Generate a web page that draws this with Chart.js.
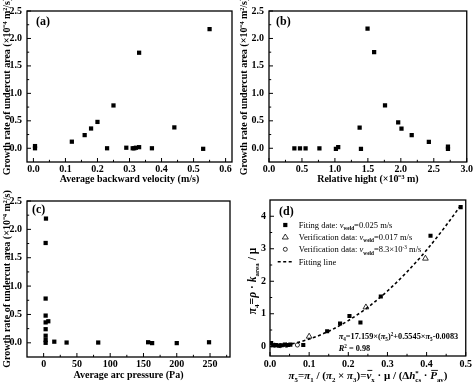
<!DOCTYPE html>
<html><head><meta charset="utf-8">
<script src="https://cdn.jsdelivr.net/npm/chart.js@4/dist/chart.umd.min.js"></script>
<style>
html,body{margin:0;padding:0;background:#fff;}
#wrap{position:relative;width:474px;height:383px;overflow:hidden;background:#fff}
canvas{position:absolute}
</style></head><body>
<div id="wrap">
<canvas id="ca" style="left:0;top:0" width="237" height="190"></canvas>
<canvas id="cb" style="left:237px;top:0" width="237" height="190"></canvas>
<canvas id="cc" style="left:0;top:190px" width="237" height="193"></canvas>
<canvas id="cd" style="left:237px;top:190px" width="237" height="193"></canvas>
</div>
<script>
// ---------- DATA ----------
// (a) growth rate vs average backward velocity
const velocityA = [0.005,0.005,0.12,0.16,0.18,0.20,0.23,0.25,0.29,0.31,0.315,0.32,0.33,0.33,0.37,0.44,0.53,0.55];
const rateA     = [0.04,0.0,0.12,0.24,0.36,0.48,0.0,0.78,0.01,0.0,0.0,0.01,0.02,1.74,0.0,0.38,-0.01,2.17];
// (b) growth rate vs relative hight
const hightB = [0.385,0.47,0.555,0.765,1.015,1.05,1.375,1.395,1.495,1.595,1.76,1.96,2.01,2.165,2.425,2.715,2.715];
const rateB  = [0.0,0.0,0.0,0.0,-0.01,0.02,0.375,-0.01,2.18,1.75,0.78,0.47,0.36,0.24,0.115,0.03,-0.01];
// (c) growth rate vs average arc pressure
const pressureC = [3.5,3,3,3,3,7,3,3,3,3,16,34.5,82,157,163,200,248.5];
const rateC     = [2.19,1.76,0.78,0.48,0.36,0.38,0.24,0.125,0.05,0.0,0.02,0.005,0.005,0.01,-0.005,-0.005,0.01];
// (d) dimensionless fit
const fitPi5 = [0.003,0.008,0.015,0.022,0.03,0.038,0.046,0.052,0.085,0.146,0.179,0.203,0.231,0.283,0.41,0.487];
const fitPi4 = [0.1,0.03,0.04,0.02,0.03,0.05,0.04,0.05,0.04,0.46,0.70,0.93,0.73,1.53,3.40,4.28];
const ver017Pi5 = [0.1,0.245,0.397];
const ver017Pi4 = [0.30,1.2,2.70];
const ver83Pi5 = [0.012,0.026,0.042,0.07];
const ver83Pi4 = [0.03,0.02,0.03,0.04];
const lineX = [0,0.05,0.1,0.15,0.2,0.25,0.3,0.35,0.4,0.45,0.49];
const lineY = [-0.01,0.06,0.22,0.46,0.79,1.2,1.7,2.29,2.96,3.72,4.38];

// ticks
const rateTicks = [0,0.5,1.0,1.5,2.0,2.5];
const rateTickLabels = ['0.0','0.5','1.0','1.5','2.0','2.5'];
const rateMinor = [-0.25,0.25,0.75,1.25,1.75,2.25];
const velTicks = [0,0.1,0.2,0.3,0.4,0.5,0.6];
const velTickLabels = ['0.0','0.1','0.2','0.3','0.4','0.5','0.6'];
const velMinor = [0.05,0.15,0.25,0.35,0.45,0.55];
const hightTicks = [0,0.5,1.0,1.5,2.0,2.5,3.0];
const hightTickLabels = ['0.0','0.5','1.0','1.5','2.0','2.5','3.0'];
const hightMinor = [0.25,0.75,1.25,1.75,2.25,2.75];
const presTicks = [0,50,100,150,200,250];
const presTickLabels = ['0','50','100','150','200','250'];
const presMinor = [-25,25,75,125,175,225,275];
const pi5Ticks = [0,0.1,0.2,0.3,0.4,0.5];
const pi5TickLabels = ['0.0','0.1','0.2','0.3','0.4','0.5'];
const pi5Minor = [0.05,0.15,0.25,0.35,0.45];
const pi4Ticks = [0,1,2,3,4];
const pi4TickLabels = ['0','1','2','3','4'];
const pi4Minor = [0.5,1.5,2.5,3.5];

const yTitleABC = 'Growth rate of undercut area (×10⁻⁴ m²/s)';

// ---------- helpers ----------
const SERIF = '"Liberation Serif","Times New Roman",serif';
function fontFor(f, size){
  const small = f.includes('sub') || f.includes('sup');
  const s = small ? size*0.62 : size;
  return (f.includes('i')?'italic ':'') + (f.includes('b')?'bold ':'') + s.toFixed(2) + 'px ' + SERIF;
}
function drawRich(ctx, segs, x, y, size, align, rot){
  ctx.save();
  ctx.translate(x,y); if(rot) ctx.rotate(rot);
  let w=0; const ws=[];
  for(const [t,f] of segs){ ctx.font=fontFor(f,size); const m=ctx.measureText(t).width; ws.push(m); if(!f.includes('nx')) w+=m; }
  let cx = align==='center' ? -w/2 : 0;
  ctx.fillStyle='#000'; ctx.strokeStyle='#000'; ctx.textBaseline='alphabetic'; ctx.textAlign='left';
  segs.forEach(([t,f],i)=>{
    ctx.font=fontFor(f,size);
    const dy = f.includes('sub') ? size*0.28 : (f.includes('sup') ? -size*0.40 : 0);
    ctx.fillText(t,cx,dy);
    if(f.includes('bar')){ ctx.lineWidth=0.9; ctx.beginPath(); ctx.moveTo(cx+1,dy-size*0.78); ctx.lineTo(cx+ws[i]+1,dy-size*0.78); ctx.stroke(); }
    if(!f.includes('nx')) cx+=ws[i];
  });
  ctx.restore();
}

function framePlugin(xMinor, yMinor, label, lx, ly){
  return {
    id:'frameTicks',
    afterDraw(chart){
      const ctx=chart.ctx, a=chart.chartArea, xs=chart.scales.x, ys=chart.scales.y;
      ctx.save();
      ctx.strokeStyle='#000'; ctx.lineWidth=1.3;
      ctx.strokeRect(a.left,a.top,a.right-a.left,a.bottom-a.top);
      ctx.lineWidth=1;
      ctx.beginPath();
      xs.ticks.forEach(t=>{const p=xs.getPixelForValue(t.value); ctx.moveTo(p,a.bottom); ctx.lineTo(p,a.bottom-4);});
      xMinor.forEach(v=>{const p=xs.getPixelForValue(v); if(p>a.left&&p<a.right){ctx.moveTo(p,a.bottom); ctx.lineTo(p,a.bottom-2.2);}});
      ys.ticks.forEach(t=>{const p=ys.getPixelForValue(t.value); ctx.moveTo(a.left,p); ctx.lineTo(a.left+4,p);});
      yMinor.forEach(v=>{const p=ys.getPixelForValue(v); if(p>a.top&&p<a.bottom){ctx.moveTo(a.left,p); ctx.lineTo(a.left+2.2,p);}});
      ctx.stroke();
      ctx.fillStyle='#000'; ctx.font='bold 12px '+SERIF; ctx.textBaseline='middle'; ctx.textAlign='left';
      ctx.fillText(label, a.left+lx, a.top+ly);
      ctx.restore();
    }
  };
}

function axisCfg(min,max,ticks,labels,fit,isX,title,titlePad,tickPad){
  return {
    type:'linear', min, max,
    grid:{display:false, drawTicks:false},
    border:{display:false},
    afterBuildTicks(s){ s.ticks = ticks.map(v=>({value:v})); },
    afterFit(s){ if(isX) s.height=fit; else s.width=fit; },
    ticks:{ color:'#000', font:{family:SERIF, size:10, weight:'bold'}, padding:tickPad, maxRotation:0, autoSkip:false,
      callback:(v,i)=>labels[i] },
    title:{ display:!!title, text:title||'', color:'#000', font:{family:SERIF,size:10,weight:'bold'}, padding:titlePad }
  };
}

function scatterSet(xs,ys,extra){
  return Object.assign({data:xs.map((x,i)=>({x,y:ys[i]})), pointStyle:'rect', pointRadius:3, backgroundColor:'#000', borderWidth:0, showLine:false}, extra||{});
}

function makeChart(id, datasets, xA, yA, pad, plugins){
  return new Chart(document.getElementById(id), {
    type:'scatter',
    data:{datasets},
    options:{
      responsive:false, animation:false, devicePixelRatio:1,
      layout:{padding:{top:pad.top,right:pad.right,left:0,bottom:0}},
      plugins:{legend:{display:false}, tooltip:{enabled:false}},
      scales:{x:xA,y:yA}
    },
    plugins
  });
}

// (a)
makeChart('ca',[scatterSet(velocityA,rateA)],
  axisCfg(-0.02,0.62,velTicks,velTickLabels,28,true,'Average backward velocity (m/s)',{top:0,bottom:5},1),
  axisCfg(-0.25,2.5,rateTicks,rateTickLabels,27,false,yTitleABC,{top:1,bottom:0},5),
  {top:5,right:5},[framePlugin(velMinor,rateMinor,'(a)',9,11)]);
// (b)
makeChart('cb',[scatterSet(hightB,rateB)],
  axisCfg(0,3.0,hightTicks,hightTickLabels,28,true,'Relative hight (×10⁻³ m)',{top:0,bottom:5},1),
  axisCfg(-0.25,2.5,rateTicks,rateTickLabels,32,false,yTitleABC,{top:1,bottom:0},5),
  {top:5,right:5},[framePlugin(hightMinor,rateMinor,'(b)',7,11)]);
// (c)
makeChart('cc',[scatterSet(pressureC,rateC)],
  axisCfg(-25,280,presTicks,presTickLabels,26,true,'Average arc pressure (Pa)',{top:0,bottom:1.5},1),
  axisCfg(-0.25,2.5,rateTicks,rateTickLabels,27,false,yTitleABC,{top:1,bottom:0},5),
  {top:6,right:7},[framePlugin(presMinor,rateMinor,'(c)',5,9)]);

// (d)
const dExtras = {
  id:'dExtras',
  afterDraw(chart){
    const ctx=chart.ctx;
    // axis titles
    drawRich(ctx,[['π','bi'],['4','b sub'],['=','b'],['ρ','bi'],[' · ','b'],['k','bi'],['area','b sub'],[' / μ','b']],19,91,11.5,'center',-Math.PI/2);
    drawRich(ctx,[['π','bi'],['5','b sub'],['=','b'],['π','bi'],['1','b sub'],[' / (','b'],['π','bi'],['2','b sub'],[' × ','b'],['π','bi'],['3','b sub'],[')=','b'],['v','bi bar'],['x','b sub'],[' · μ / (Δ','b'],['h','bi'],['*','b sup nx'],['cs','b sub'],[' · ','b'],['P','bi bar'],['av','b sub'],[')','b']],131,189,11,'center',0);
    // legend
    ctx.save();
    ctx.fillStyle='#000'; ctx.strokeStyle='#000';
    ctx.fillRect(48.3-2.1,35-2.1,4.2,4.2);
    ctx.lineWidth=0.8;
    ctx.beginPath(); ctx.moveTo(48.3,47-3); ctx.lineTo(51.3,47+2); ctx.lineTo(45.3,47+2); ctx.closePath(); ctx.stroke();
    ctx.beginPath(); ctx.arc(48.3,59.3,2,0,Math.PI*2); ctx.stroke();
    ctx.lineWidth=1.5; ctx.setLineDash([3,2.5]);
    ctx.beginPath(); ctx.moveTo(40.7,71.7); ctx.lineTo(56.7,71.7); ctx.stroke();
    ctx.restore();
    const ls=8.5;
    drawRich(ctx,[['Fiting date: ',''],['v','i'],['weld','sub'],['=0.025 m/s','']],61.7,38,ls,'left',0);
    drawRich(ctx,[['Verification data: ',''],['v','i'],['weld','sub'],['=0.017 m/s','']],61.7,50,ls,'left',0);
    drawRich(ctx,[['Verification data: ',''],['v','i'],['weld','sub'],['=8.3×10',''],['-3','sup'],[' m/s','']],61.7,62.3,ls,'left',0);
    drawRich(ctx,[['Fitting line','']],61.7,74.7,ls,'left',0);
    // formula
    drawRich(ctx,[['π','bi'],['4','b sub'],['=17.159×(','b'],['π','bi'],['5','b sub'],[')','b'],['2','b sup'],['+0.5545×','b'],['π','bi'],['5','b sub'],['-0.0083','b']],101.7,149,8.3,'left',0);
    drawRich(ctx,[['R','bi'],['2','b sup'],[' = 0.98','b']],101.7,161,8.3,'left',0);
  }
};
makeChart('cd',[
    {type:'line', data:lineX.map((x,i)=>({x,y:lineY[i]})), borderColor:'#000', borderWidth:1.6, borderDash:[3,2.5], pointRadius:0, tension:0.4, cubicInterpolationMode:'monotone', fill:false, showLine:true},
    scatterSet(fitPi5,fitPi4,{pointRadius:2.9}),
    scatterSet(ver017Pi5,ver017Pi4,{pointStyle:'triangle',pointRadius:3.3,backgroundColor:'rgba(0,0,0,0)',borderColor:'#000',borderWidth:0.8}),
    scatterSet(ver83Pi5,ver83Pi4,{pointStyle:'circle',pointRadius:2.1,backgroundColor:'#fff',borderColor:'#000',borderWidth:0.8})
  ],
  axisCfg(0,0.5,pi5Ticks,pi5TickLabels,27,true,null,{top:0,bottom:0},2),
  axisCfg(-0.3,4.5,pi4Ticks,pi4TickLabels,33,false,null,{top:0,bottom:0},4),
  {top:7,right:5},[framePlugin(pi5Minor,pi4Minor,'(d)',9,12),dExtras]);
</script>
</body></html>
